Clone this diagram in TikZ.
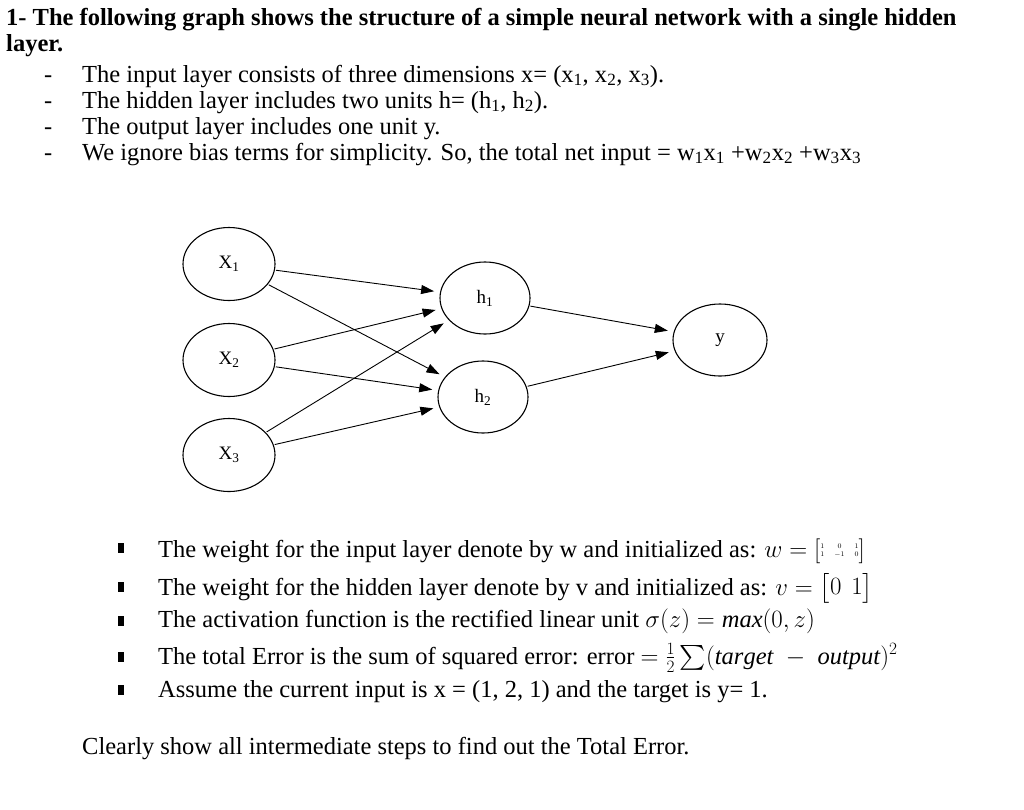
\documentclass[tikz,border=0pt]{standalone}
\usepackage{fontspec}
\usepackage{amsmath}
\setmainfont{Liberation Serif}
\usetikzlibrary{arrows.meta,shapes.geometric}
\begin{document}
\begin{tikzpicture}[x=1pt,y=-1pt,
  neuron/.style={draw,ellipse,line width=1.1pt,minimum width=92pt,minimum height=73pt,inner sep=0pt,font=\fontsize{19}{21}\selectfont},
  conn/.style={line width=0.9pt,-{Triangle[length=13pt,width=9pt]},shorten >=6pt,shorten <=1pt},
  txt/.style={anchor=base west,inner sep=0pt,font=\fontsize{24.5}{28}\selectfont},
  head/.style={anchor=base west,inner sep=0pt,font=\fontsize{24.5}{28}\selectfont\bfseries}]
\useasboundingbox (0,0) rectangle (1024,809);
\node[head] (t1) at (6,25) {1- The following graph shows the structure of a simple neural network with a single hidden};
\node[head] (t2) at (6,51) {layer.};
\foreach \i/\yy/\s in {a/82/{The input layer consists of three dimensions x= (x\textsubscript{1}, x\textsubscript{2}, x\textsubscript{3}).},
  b/108/{The hidden layer includes two units h= (h\textsubscript{1}, h\textsubscript{2}).},
  c/134/{The output layer includes one unit y.},
  d/160/{We ignore bias terms for simplicity. So, the total net input = w\textsubscript{1}x\textsubscript{1} +w\textsubscript{2}x\textsubscript{2} +w\textsubscript{3}x\textsubscript{3}}}{
  \node[txt] (dash\i) at (44,\yy) {-};
  \node[txt] (l\i) at (82,\yy) {\s};
}
\node[neuron] (x1) at (229,264) {X\textsubscript{1}};
\node[neuron] (x2) at (229,360) {X\textsubscript{2}};
\node[neuron] (x3) at (229,455) {X\textsubscript{3}};
\node[neuron,minimum width=90pt,minimum height=72pt] (h1) at (485,298) {h\textsubscript{1}};
\node[neuron,minimum width=90pt,minimum height=72pt] (h2) at (483,397) {h\textsubscript{2}};
\node[neuron,minimum width=94pt,minimum height=72pt] (y) at (720,340) {y};
\foreach \a in {x1,x2,x3}{\foreach \b in {h1,h2}{\draw[conn] (\a) -- (\b);}}
\draw[conn] (h1) -- (y);
\draw[conn] (h2) -- (y);
\foreach \i/\yy in {1/548,2/587,3/621,4/657,5/690}{\fill (118,\yy-5) rectangle ++(6,10);}
\node[txt] (b1) at (158,557) {The weight for the input layer denote by w and initialized as: $w=\scriptsize\begin{bmatrix}1&0&1\\1&-1&0\end{bmatrix}$};
\node[txt] (b2) at (158,595) {The weight for the hidden layer denote by v and initialized as: $v=\begin{bmatrix}0&1\end{bmatrix}$};
\node[txt] (b3) at (158,627) {The activation function is the rectified linear unit $\sigma(z)=\mathit{max}(0,z)$};
\node[txt] (b4) at (158,664) {The total Error is the sum of squared error: error $=\frac{1}{2}\sum(\mathit{target}\;-\;\mathit{output})^2$};
\node[txt] (b5) at (158,697) {Assume the current input is x = (1, 2, 1) and the target is y= 1.};
\node[txt] (last) at (82,754) {Clearly show all intermediate steps to find out the Total Error.};
\end{tikzpicture}
\end{document}
